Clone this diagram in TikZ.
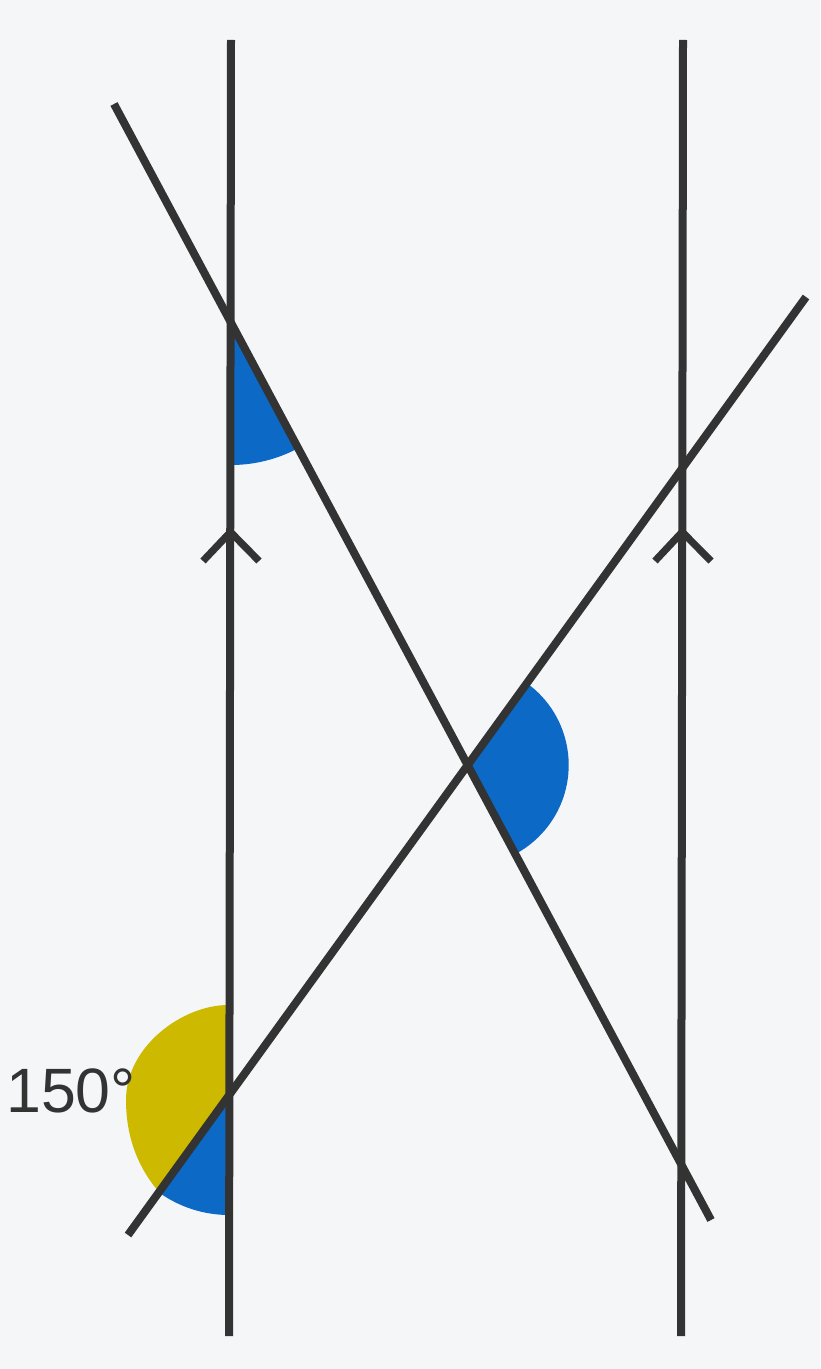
\documentclass[tikz,border=0pt]{standalone}
\usepackage{fontspec}
\setmainfont{Liberation Sans}
\usepackage{tikz}
\definecolor{lineGray}{RGB}{51,51,51}
\definecolor{angBlue}{RGB}{12,106,198}
\definecolor{angYellow}{RGB}{205,186,0}
\definecolor{bgGray}{RGB}{245,246,247}

\begin{document}
\begin{tikzpicture}[x=0.75pt,y=0.75pt,yscale=-1,xscale=1,
    ln/.style={draw=lineGray, line width=6pt},
    chev/.style={draw=lineGray, line width=5.4pt},
    blueang/.style={fill=angBlue},
    yelang/.style={fill=angYellow}]
        %background, fixes the size of the diagram
        \fill[bgGray] (0,0) rectangle (820,1369);
        \useasboundingbox (0,0) rectangle (820,1369);

        %end points and crossing points
        \coordinate (vLtop) at (231,40);
        \coordinate (vLbot) at (229,1336);
        \coordinate (vRtop) at (683,40);
        \coordinate (vRbot) at (681,1336);
        \coordinate (dTop) at (114,104);
        \coordinate (dBot) at (711,1220);
        \coordinate (uBot) at (128,1235);
        \coordinate (uTop) at (806,297);
        \coordinate (xTop) at (231,322);
        \coordinate (xMid) at (467.7,765);
        \coordinate (xBot) at (229,1095);

        %Angle sectors
        \fill[yelang] (xBot) -- (228,1005) .. controls (183,1005) and (126,1046) .. (126,1100) .. controls (126,1140) and (140,1170) .. (159,1192) -- cycle;
        \fill[blueang] (xBot) -- ++(125.86:120) arc[start angle=125.86, end angle=90, radius=120] -- cycle;
        \fill[blueang] (xTop) -- ++(61.85:143) arc[start angle=61.85, end angle=90, radius=143] -- cycle;
        \fill[blueang] (xMid) -- ++(-54.14:101) arc[start angle=-54.14, end angle=61.85, radius=101] -- cycle;

        %Straight Lines
        \draw[ln] (vLtop) -- (vLbot);
        \draw[ln] (vRtop) -- (vRbot);
        \draw[ln] (dTop) -- (dBot);
        \draw[ln] (uBot) -- (uTop);

        %parallel marks
        \coordinate (mL) at (230.5,532);
        \coordinate (mLa) at (203,561);
        \coordinate (mLb) at (259,561);
        \coordinate (mR) at (682.2,532);
        \coordinate (mRa) at (655,561);
        \coordinate (mRb) at (711,561);
        \draw[chev] (mLa) -- (mL) -- (mLb);
        \draw[chev] (mRa) -- (mR) -- (mRb);

        % Text Node
        \node[anchor=base west, inner sep=0pt, text=lineGray, font=\fontsize{47}{47}\selectfont] (angLbl) at (6,1112) {150°};
\end{tikzpicture}
\end{document}
